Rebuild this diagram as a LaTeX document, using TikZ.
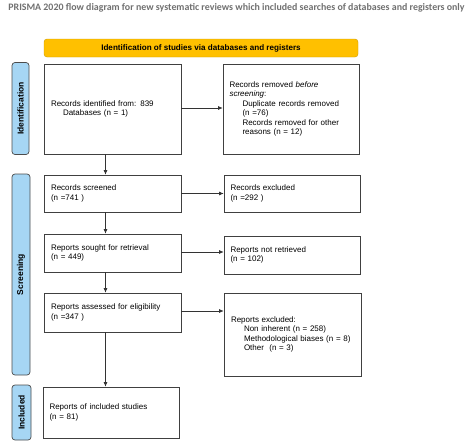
\documentclass[tikz,border=0pt]{standalone}
\usepackage{fontspec}
\setmainfont{Liberation Sans}
\newfontfamily\titlefont{Carlito}
\usetikzlibrary{arrows.meta}
\definecolor{prismayellow}{HTML}{FFC000}
\definecolor{tabblue}{HTML}{A6D6F4}
\definecolor{titlegray}{HTML}{707070}
\tikzset{
  box/.style={draw=black!75, line width=0.7pt, minimum width=137, text width=123,
    inner xsep=6, inner ysep=2, align=left, font=\fontsize{8}{9.5}\selectfont},
  tab/.style={draw=black!70, fill=tabblue, rounded corners=3, line width=0.7pt, rotate=90,
    inner sep=0, font=\fontsize{8.5}{10}\selectfont\bfseries},
  flow/.style={draw=black!80, line width=0.6pt, -{Latex[length=4.5pt,width=4pt]}}
}
\begin{document}
\begin{tikzpicture}[x=1pt,y=-1pt]
  \useasboundingbox (0,0) rectangle (474,445);
  \node[font=\titlefont\fontsize{9.9}{11}\selectfont\bfseries, text=titlegray] (title) at (236.5,8)
    {PRISMA 2020 flow diagram for new systematic reviews which included searches of databases and registers only};

  \node[draw=prismayellow!80!black, fill=prismayellow, rounded corners=3, minimum width=314, minimum height=18,
    inner sep=0, font=\fontsize{8.1}{9}\selectfont\bfseries] (bar) at (201,48)
    {Identification of studies via databases and registers};

  % side tabs
  \node[tab, minimum width=92, minimum height=17] (idtab) at (20.5,108.5) {Identification};
  \node[tab, minimum width=201, minimum height=18] (sctab) at (21,274.5) {Screening};
  \node[tab, minimum width=55, minimum height=19] (inctab) at (21.5,412.5) {Included};

  % left column
  \node[box, minimum height=90] (identified) at (112.5,109)
    {Records identified from: 839\\ \hspace*{12pt}Databases (n = 1)};
  \node[box, minimum height=37] (screened) at (112.5,193.5)
    {Records screened\\(n =741 )};
  \node[box, minimum height=38] (sought) at (112.5,253)
    {Reports sought for retrieval\\(n = 449)};
  \node[box, minimum height=39] (assessed) at (112.5,312.5)
    {Reports assessed for eligibility\\(n =347 )};
  \node[box, minimum width=136, minimum height=51] (included) at (111,412.5)
    {Reports of included studies\\(n = 81)};

  % right column
  \node[box, minimum width=136, minimum height=90] (removed) at (291,109)
    {Records removed \textit{before}\\\textit{screening}:\\
     \hspace*{13pt}Duplicate records removed\\ \hspace*{13pt}(n =76)\\
     \hspace*{13pt}Records removed for other\\ \hspace*{13pt}reasons (n = 12)};
  \node[box, minimum width=136, minimum height=37] (excluded) at (292,193.5)
    {Records excluded\\(n =292 )};
  \node[box, minimum width=136, minimum height=38] (notretrieved) at (292,255)
    {Reports not retrieved\\(n = 102)};
  \node[box, minimum height=83] (repexcluded) at (292.5,334.5)
    {Reports excluded:\\ \hspace*{13pt}Non inherent (n = 258)\\
     \hspace*{13pt}Methodological biases (n = 8)\\ \hspace*{13pt}Other~ (n = 3)\\[6pt]};

  % connectors
  \draw[flow] ([xshift=-7]identified.south) -- ([xshift=-7]screened.north);
  \draw[flow] ([xshift=-7]screened.south) -- ([xshift=-7]sought.north);
  \draw[flow] ([xshift=-7]sought.south) -- ([xshift=-7]assessed.north);
  \draw[flow] ([xshift=-7]assessed.south) -- ([xshift=-5.5]included.north);
  \draw[flow] ([yshift=1]identified.east) -- ([yshift=1]identified.east -| removed.west);
  \draw[flow] (screened.east) -- (screened.east -| excluded.west);
  \draw[flow] ([yshift=1]sought.east) -- ([yshift=1]sought.east -| notretrieved.west);
  \draw[flow] ([yshift=1.5]assessed.east) -- ([yshift=1.5]assessed.east -| repexcluded.west);
\end{tikzpicture}
\end{document}
